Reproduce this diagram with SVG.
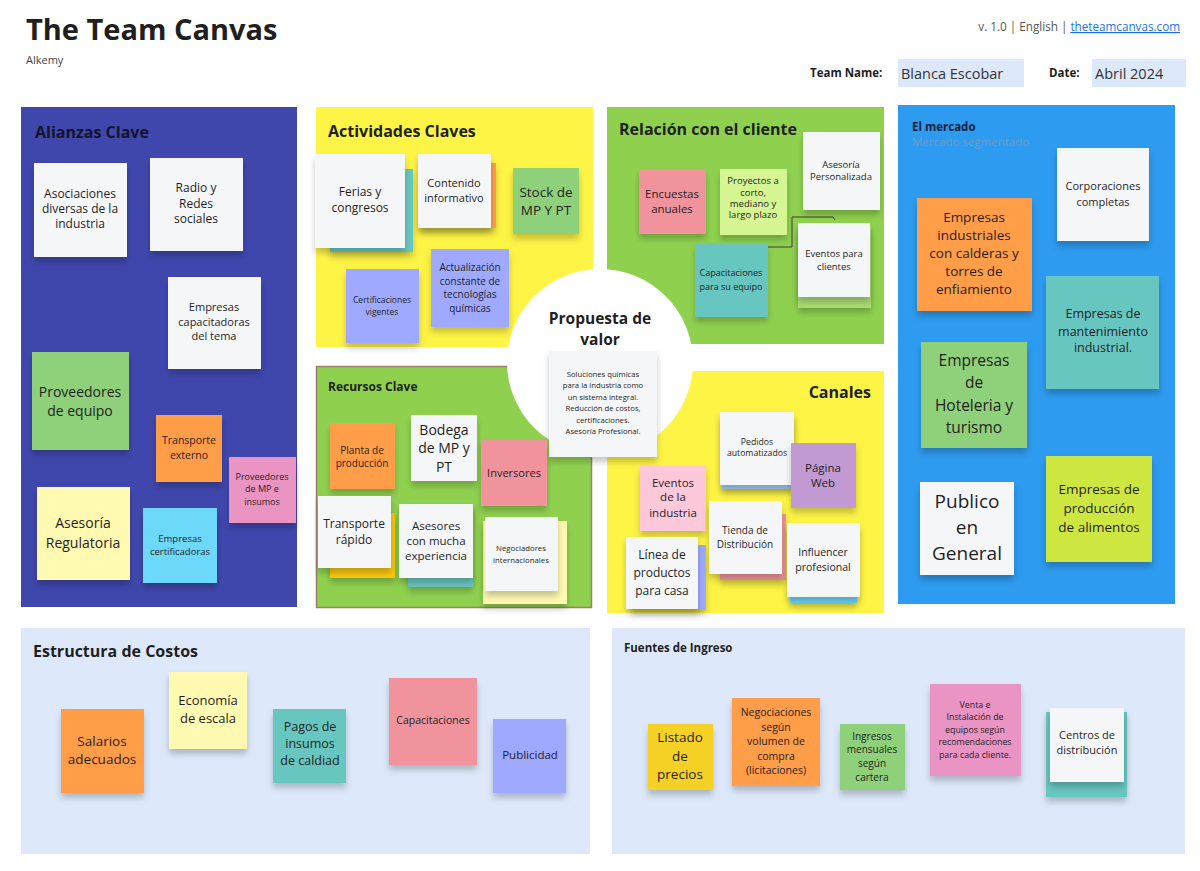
<svg xmlns="http://www.w3.org/2000/svg" width="1200" height="871" viewBox="0 0 1200 871">
<defs>
<filter id="sh" x="-20%" y="-20%" width="140%" height="150%">
<feDropShadow dx="0" dy="5" stdDeviation="3" flood-color="#000" flood-opacity="0.22"/>
</filter>
<style>
text{font-family:"Open Sans","Noto Sans","Liberation Sans",sans-serif;fill:#1f1f1f}
.c{text-anchor:middle}
.b{font-weight:700}
.n{filter:url(#sh)}
.white{fill:#f5f6f8}
.ly{fill:#fff9b1}
.yel{fill:#f5d128}
.ora{fill:#ff9d48}
.lg{fill:#d5f692}
.gr{fill:#8fd07a}
.yg{fill:#cee741}
.cy{fill:#6cd8fa}
.lp{fill:#fec8db}
.pk{fill:#e994c3}
.vi{fill:#c29ad3}
.red{fill:#f0939d}
.lb{fill:#a6ccf5}
.pw{fill:#9ea9ff}
.tl{fill:#67c6c0}
.ogy{fill:#fac710}
.sec-title{font-weight:700;font-size:16px}
</style>
</defs>
<rect width="1200" height="871" fill="#ffffff"/>

<g id="header">
<text x="26" y="40" class="b" style="font-size:29px">The Team Canvas</text>
<text x="26" y="64" style="font-size:11px;fill:#444">Alkemy</text>
<text x="1180" y="31" style="font-size:11.7px;fill:#555;text-anchor:end">v. 1.0 | English | <tspan style="fill:#1a73e8;text-decoration:underline">theteamcanvas.com</tspan></text>
<text x="810" y="77" class="b" style="font-size:11.5px">Team Name:</text>
<rect x="898" y="59" width="126" height="28" fill="#dde9fb"/>
<text x="901" y="79" style="font-size:14.5px;fill:#333">Blanca Escobar</text>
<text x="1049" y="77" class="b" style="font-size:11.5px">Date:</text>
<rect x="1092" y="59" width="94" height="28" fill="#dde9fb"/>
<text x="1095" y="79" style="font-size:14.5px;fill:#333">Abril 2024</text>
</g>

<g id="sections">
<rect id="sec-alianzas" x="21" y="107" width="276" height="500" fill="#3f47ad"/>
<text x="35" y="138" class="sec-title" style="fill:#14142b">Alianzas Clave</text>
<rect id="sec-actividades" x="316" y="107" width="277" height="240" fill="#fef445"/>
<text x="328" y="137" class="sec-title">Actividades Claves</text>
<rect id="sec-relacion" x="607" y="107" width="277" height="237" fill="#8fd14f"/>
<text x="619" y="135" class="sec-title">Relación con el cliente</text>
<rect id="sec-mercado" x="898" y="105" width="277" height="499" fill="#2d9bf0"/>
<text x="912" y="131" class="b" style="font-size:11.5px;fill:#14203a">El mercado</text>
<text x="912" y="146" style="font-size:11.5px;fill:#6f9cc6">Mercado segmentado</text>
<rect id="sec-recursos" x="316.5" y="366.5" width="275" height="241" fill="#8fd14f" stroke="#9c7f6a" stroke-width="1.5"/>
<text x="328" y="391" class="b" style="font-size:12px">Recursos Clave</text>
<rect id="sec-canales" x="607" y="371" width="277" height="242" fill="#fef445"/>
<text x="871" y="398" class="sec-title" style="text-anchor:end">Canales</text>
<rect id="sec-costos" x="21" y="628" width="569" height="226" fill="#dde9fb"/>
<text x="33" y="657" class="sec-title">Estructura de Costos</text>
<rect id="sec-ingresos" x="612" y="628" width="573" height="226" fill="#dde9fb"/>
<text x="624" y="652" class="b" style="font-size:11.5px">Fuentes de Ingreso</text>
</g>

<g id="propuesta">
<circle cx="600" cy="362" r="93" fill="#ffffff"/>
<text x="600" y="324" class="c b" style="font-size:15.5px">Propuesta de</text>
<text x="600" y="345" class="c b" style="font-size:15.5px">valor</text>
<rect class="n white" x="549" y="351" width="108" height="106"/>
<text class="c" style="font-size:7.7px"><tspan x="603" y="376.5">Soluciones químicas</tspan><tspan x="603" y="388">para la industria como</tspan><tspan x="603" y="399.5">un sistema integral.</tspan><tspan x="603" y="411">Reducción de costos,</tspan><tspan x="603" y="422.5">certificaciones.</tspan><tspan x="603" y="434">Asesoría Profesional.</tspan></text>
</g>

<g id="connectors">
<polyline points="754,247 792,247 792,217 833,217 835,220" fill="none" stroke="#3a3a3a" stroke-width="1"/>
</g>

<!-- Alianzas Clave -->
<g id="n-asociaciones"><rect class="n white" x="34" y="163" width="93" height="94"/>
<text class="c" style="font-size:12px"><tspan x="80" y="198">Asociaciones</tspan><tspan x="80" y="213">diversas de la</tspan><tspan x="80" y="228">industria</tspan></text></g>
<g id="n-radio"><rect class="n white" x="150" y="158" width="93" height="93"/>
<text class="c" style="font-size:12px"><tspan x="196" y="192">Radio y</tspan><tspan x="196" y="208">Redes</tspan><tspan x="196" y="223">sociales</tspan></text></g>
<g id="n-capacitadoras"><rect class="n white" x="168" y="277" width="93" height="92"/>
<text class="c" style="font-size:11px"><tspan x="214" y="311">Empresas</tspan><tspan x="214" y="326">capacitadoras</tspan><tspan x="214" y="340">del tema</tspan></text></g>
<g id="n-prov-equipo"><rect class="n gr" x="32" y="352" width="97" height="98"/>
<text class="c" style="font-size:14px"><tspan x="80" y="397">Proveedores</tspan><tspan x="80" y="416">de equipo</tspan></text></g>
<g id="n-transporte-ext"><rect class="n ora" x="156" y="415" width="66" height="67"/>
<text class="c" style="font-size:10.5px"><tspan x="189" y="444">Transporte</tspan><tspan x="189" y="459">externo</tspan></text></g>
<g id="n-prov-mp"><rect class="n pk" x="229" y="457" width="67" height="66"/>
<text class="c" style="font-size:9px"><tspan x="262" y="480">Proveedores</tspan><tspan x="262" y="492">de MP e</tspan><tspan x="262" y="505">insumos</tspan></text></g>
<g id="n-asesoria-reg"><rect class="n ly" x="37" y="487" width="93" height="93"/>
<text class="c" style="font-size:14px"><tspan x="83" y="528">Asesoría</tspan><tspan x="83" y="548">Regulatoria</tspan></text></g>
<g id="n-certificadoras"><rect class="n cy" x="143" y="508" width="74" height="75"/>
<text class="c" style="font-size:9.5px"><tspan x="180" y="542">Empresas</tspan><tspan x="180" y="555">certificadoras</tspan></text></g>

<!-- Actividades Claves -->
<g id="n-ferias"><rect class="n tl" x="330" y="169" width="83" height="83"/><rect class="n white" x="315" y="154" width="90" height="94"/>
<text class="c" style="font-size:12px"><tspan x="360" y="196">Ferias y</tspan><tspan x="360" y="212">congresos</tspan></text></g>
<g id="n-contenido"><rect class="n ora" x="420" y="163" width="76" height="65"/><rect class="n white" x="418" y="154" width="73" height="74"/>
<text class="c" style="font-size:11px"><tspan x="454" y="187">Contenido</tspan><tspan x="454" y="202">informativo</tspan></text></g>
<g id="n-stock"><rect class="n gr" x="513" y="168" width="66" height="66"/>
<text class="c" style="font-size:13.5px"><tspan x="546" y="197">Stock de</tspan><tspan x="546" y="215">MP Y PT</tspan></text></g>
<g id="n-cert-vigentes"><rect class="n pw" x="346" y="269" width="73" height="74"/>
<text class="c" style="font-size:8.5px"><tspan x="382" y="303">Certificaciones</tspan><tspan x="382" y="315">vigentes</tspan></text></g>
<g id="n-actualizacion"><rect class="n pw" x="431" y="249" width="78" height="78"/>
<text class="c" style="font-size:10px"><tspan x="470" y="270.5">Actualización</tspan><tspan x="470" y="284.5">constante de</tspan><tspan x="470" y="297.5">tecnologías</tspan><tspan x="470" y="311.5">químicas</tspan></text></g>

<!-- Relación con el cliente -->
<g id="n-encuestas"><rect class="n red" x="639" y="169" width="67" height="65"/>
<text class="c" style="font-size:11.5px"><tspan x="672" y="198">Encuestas</tspan><tspan x="672" y="213">anuales</tspan></text></g>
<g id="n-proyectos"><rect class="n lg" x="720" y="169" width="67" height="66"/>
<text class="c" style="font-size:9.5px"><tspan x="753" y="184">Proyectos a</tspan><tspan x="753" y="196">corto,</tspan><tspan x="753" y="207">mediano y</tspan><tspan x="753" y="218">largo plazo</tspan></text></g>
<g id="n-asesoria-pers"><rect class="n white" x="803" y="132" width="77" height="78"/>
<text class="c" style="font-size:9.5px"><tspan x="841" y="168">Asesoría</tspan><tspan x="841" y="180">Personalizada</tspan></text></g>
<g id="n-eventos-clientes"><rect class="n" fill="#a9dc72" x="798" y="226" width="73" height="82"/><rect class="n white" x="798" y="223" width="72" height="74"/>
<text class="c" style="font-size:9.5px"><tspan x="834" y="257">Eventos para</tspan><tspan x="834" y="270">clientes</tspan></text></g>
<g id="n-capacitaciones-eq"><rect class="n tl" x="695" y="243" width="73" height="74"/>
<text class="c" style="font-size:9px"><tspan x="731" y="276">Capacitaciones</tspan><tspan x="731" y="290">para su equipo</tspan></text></g>

<!-- El mercado -->
<g id="n-corporaciones"><rect class="n white" x="1057" y="148" width="92" height="93"/>
<text class="c" style="font-size:11px"><tspan x="1103" y="190">Corporaciones</tspan><tspan x="1103" y="206">completas</tspan></text></g>
<g id="n-industriales"><rect class="n ora" x="917" y="198" width="115" height="113"/>
<text class="c" style="font-size:13.5px"><tspan x="974" y="222">Empresas</tspan><tspan x="974" y="240">industriales</tspan><tspan x="974" y="258">con calderas y</tspan><tspan x="974" y="276">torres de</tspan><tspan x="974" y="294">enfiamiento</tspan></text></g>
<g id="n-mantenimiento"><rect class="n tl" x="1046" y="276" width="113" height="113"/>
<text class="c" style="font-size:12.5px"><tspan x="1103" y="318">Empresas de</tspan><tspan x="1103" y="336">mantenimiento</tspan><tspan x="1103" y="352">industrial.</tspan></text></g>
<g id="n-hoteleria"><rect class="n gr" x="921" y="342" width="106" height="106"/>
<text class="c" style="font-size:15.5px"><tspan x="974" y="366">Empresas</tspan><tspan x="974" y="388">de</tspan><tspan x="974" y="411">Hoteleria y</tspan><tspan x="974" y="433">turismo</tspan></text></g>
<g id="n-publico"><rect class="n white" x="920" y="482" width="94" height="93"/>
<text class="c" style="font-size:19px"><tspan x="967" y="508">Publico</tspan><tspan x="967" y="534">en</tspan><tspan x="967" y="560">General</tspan></text></g>
<g id="n-alimentos"><rect class="n yg" x="1046" y="456" width="106" height="106"/>
<text class="c" style="font-size:13.5px"><tspan x="1099" y="494">Empresas de</tspan><tspan x="1099" y="513">producción</tspan><tspan x="1099" y="532">de alimentos</tspan></text></g>

<!-- Recursos Clave -->
<g id="n-planta"><rect class="n ora" x="330" y="423" width="65" height="66"/>
<text class="c" style="font-size:10px"><tspan x="362" y="453.5">Planta de</tspan><tspan x="362" y="466.5">producción</tspan></text></g>
<g id="n-bodega"><rect class="n white" x="411" y="415" width="66" height="66"/>
<text class="c" style="font-size:14px"><tspan x="444" y="435">Bodega</tspan><tspan x="444" y="453">de MP y</tspan><tspan x="444" y="472">PT</tspan></text></g>
<g id="n-inversores"><rect class="n red" x="481" y="440" width="66" height="66"/>
<text class="c" style="font-size:11px"><tspan x="514" y="477">Inversores</tspan></text></g>
<g id="n-transporte-rap"><rect class="n ogy" x="330" y="513" width="65" height="65"/><rect class="n white" x="318" y="496" width="73" height="72"/>
<text class="c" style="font-size:12px"><tspan x="354" y="528">Transporte</tspan><tspan x="354" y="544">rápido</tspan></text></g>
<g id="n-asesores"><rect class="n tl" x="408" y="504" width="65" height="83"/><rect class="n white" x="399" y="504" width="74" height="74"/>
<text class="c" style="font-size:11.5px"><tspan x="436" y="530">Asesores</tspan><tspan x="436" y="545">con mucha</tspan><tspan x="436" y="560">experiencia</tspan></text></g>
<g id="n-negociadores-int"><rect class="n ly" x="483" y="521" width="84" height="83"/><rect class="n white" x="485" y="517" width="73" height="74"/>
<text class="c" style="font-size:7.8px"><tspan x="521" y="551">Negociadores</tspan><tspan x="521" y="563">internacionales</tspan></text></g>

<!-- Canales -->
<g id="n-pedidos"><rect class="n lb" x="722" y="416" width="72" height="73"/><rect class="n white" x="720" y="412" width="74" height="73"/>
<text class="c" style="font-size:8.7px"><tspan x="757" y="445">Pedidos</tspan><tspan x="757" y="456">automatizados</tspan></text></g>
<g id="n-pagina"><rect class="n vi" x="791" y="443" width="65" height="65"/>
<text class="c" style="font-size:11.5px"><tspan x="823" y="472">Página</tspan><tspan x="823" y="487">Web</tspan></text></g>
<g id="n-eventos-ind"><rect class="n lp" x="640" y="466" width="66" height="65"/>
<text class="c" style="font-size:11.5px"><tspan x="673" y="487">Eventos</tspan><tspan x="673" y="501">de la</tspan><tspan x="673" y="517">industria</tspan></text></g>
<g id="n-tienda"><rect class="n red" x="720" y="514" width="66" height="66"/><rect class="n white" x="709" y="501" width="73" height="73"/>
<text class="c" style="font-size:10px"><tspan x="745" y="533.5">Tienda de</tspan><tspan x="745" y="547.5">Distribución</tspan></text></g>
<g id="n-influencer"><rect class="n cy" x="790" y="527" width="67" height="76"/><rect class="n white" x="787" y="523" width="73" height="74"/>
<text class="c" style="font-size:10.5px"><tspan x="823" y="556">Influencer</tspan><tspan x="823" y="571">profesional</tspan></text></g>
<g id="n-linea"><rect class="n pw" x="632" y="545" width="74" height="65"/><rect class="n white" x="626" y="537" width="72" height="72"/>
<text class="c" style="font-size:12px"><tspan x="662" y="559">Línea de</tspan><tspan x="662" y="577">productos</tspan><tspan x="662" y="595">para casa</tspan></text></g>

<!-- Estructura de Costos -->
<g id="n-salarios"><rect class="n ora" x="61" y="709" width="83" height="84"/>
<text class="c" style="font-size:13.5px"><tspan x="102" y="746">Salarios</tspan><tspan x="102" y="764">adecuados</tspan></text></g>
<g id="n-economia"><rect class="n ly" x="169" y="672" width="78" height="77"/>
<text class="c" style="font-size:13px"><tspan x="208" y="705">Economía</tspan><tspan x="208" y="723">de escala</tspan></text></g>
<g id="n-pagos"><rect class="n tl" x="273" y="709" width="73" height="74"/>
<text class="c" style="font-size:12.5px"><tspan x="310" y="731">Pagos de</tspan><tspan x="310" y="748">insumos</tspan><tspan x="310" y="765">de caldiad</tspan></text></g>
<g id="n-capacitaciones"><rect class="n red" x="389" y="678" width="88" height="87"/>
<text class="c" style="font-size:10.5px"><tspan x="433" y="724">Capacitaciones</tspan></text></g>
<g id="n-publicidad"><rect class="n pw" x="493" y="719" width="73" height="74"/>
<text class="c" style="font-size:11.5px"><tspan x="530" y="759">Publicidad</tspan></text></g>

<!-- Fuentes de Ingreso -->
<g id="n-listado"><rect class="n yel" x="648" y="724" width="65" height="66"/>
<text class="c" style="font-size:13.5px"><tspan x="680" y="742">Listado</tspan><tspan x="680" y="761">de</tspan><tspan x="680" y="779">precios</tspan></text></g>
<g id="n-negociaciones"><rect class="n ora" x="732" y="698" width="88" height="88"/>
<text class="c" style="font-size:10.5px"><tspan x="776" y="716">Negociaciones</tspan><tspan x="776" y="731">según</tspan><tspan x="776" y="745">volumen de</tspan><tspan x="776" y="760">compra</tspan><tspan x="776" y="774">(licitaciones)</tspan></text></g>
<g id="n-ingresos"><rect class="n gr" x="840" y="724" width="65" height="66"/>
<text class="c" style="font-size:10px"><tspan x="872" y="740">Ingresos</tspan><tspan x="872" y="753">mensuales</tspan><tspan x="872" y="767">según</tspan><tspan x="872" y="781">cartera</tspan></text></g>
<g id="n-venta"><rect class="n pk" x="930" y="684" width="91" height="92"/>
<text class="c" style="font-size:8.8px"><tspan x="975" y="708">Venta e</tspan><tspan x="975" y="720">Instalación de</tspan><tspan x="975" y="733">equipos según</tspan><tspan x="975" y="745">recomendaciones</tspan><tspan x="975" y="758">para cada cliente.</tspan></text></g>
<g id="n-centros"><rect class="n tl" x="1046" y="712" width="81" height="85"/><rect class="n white" x="1050" y="708" width="74" height="74"/>
<text class="c" style="font-size:11px"><tspan x="1087" y="739">Centros de</tspan><tspan x="1087" y="754">distribución</tspan></text></g>
</svg>
